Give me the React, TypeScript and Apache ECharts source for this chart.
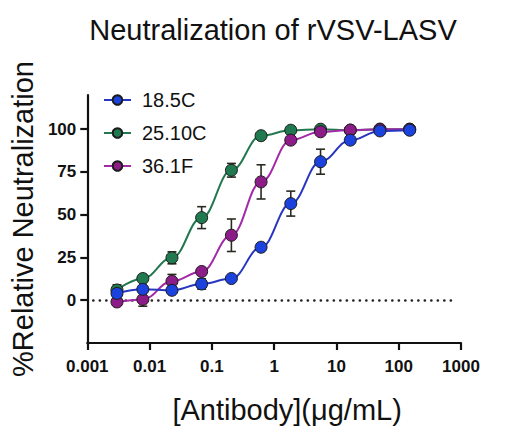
import React, { useEffect, useRef } from "react";
import * as echarts from "echarts";

// Antibody concentrations (µg/mL), ~3-fold dilution series
const concentrations = [0.003, 0.0078, 0.0229, 0.0686, 0.206, 0.617, 1.85, 5.56, 16.7, 50, 150];

// % relative neutralization (mean) and error (±) per antibody
const ab185C = [4, 6.4, 5.8, 9.5, 12.7, 31, 56.5, 81, 93.6, 99, 99.4];
const ab185CErr = [5, 1, 1, 3, 1, 1, 7.3, 7.3, 1, 0, 0];

const ab2510C = [6, 12.7, 24.8, 48.3, 76, 96.2, 99.4, 100, 99.4, 100, 100];
const ab2510CErr = [2, 2, 3.5, 6.4, 4, 1, 0, 0, 0, 0, 0];

const ab361F = [-1, 0.5, 11.1, 16.8, 38, 69.2, 93.6, 98.5, 99.5, 100, 100];
const ab361FErr = [2, 4, 4, 2, 9.5, 10, 1, 0, 0, 0, 0];

const seriesNames = ["18.5C", "25.10C", "36.1F"];

const xTickValues = [0.001, 0.01, 0.1, 1, 10, 100, 1000];
const xTickLabels = ["0.001", "0.01", "0.1", "1", "10", "100", "1000"];
const yTickValues = [0, 25, 50, 75, 100];

// dotted baseline at 0 %
const baselineRange = [0.00125, 800];

const FONT = "Liberation Sans, Arial, sans-serif";

function pairs(values: number[]) {
  return concentrations.map((c, i) => [c, values[i]]);
}

function errorTriples(values: number[], errs: number[]) {
  return concentrations
    .map((c, i) => [c, values[i] - errs[i], values[i] + errs[i]])
    .filter((_, i) => errs[i] > 0);
}

function errorBarSeries(name: string, values: number[], errs: number[]) {
  return {
    type: "custom",
    name: name + " err",
    z: 3,
    silent: true,
    data: errorTriples(values, errs),
    renderItem: (params: any, api: any) => {
      const x = api.value(0);
      const lo = api.coord([x, api.value(1)]);
      const hi = api.coord([x, api.value(2)]);
      const cap = 4.5;
      const style = { stroke: "#2a2a22", lineWidth: 1.6, fill: "none" };
      return {
        type: "group",
        children: [
          { type: "line", shape: { x1: lo[0], y1: lo[1], x2: hi[0], y2: hi[1] }, style },
          { type: "line", shape: { x1: lo[0] - cap, y1: lo[1], x2: lo[0] + cap, y2: lo[1] }, style },
          { type: "line", shape: { x1: hi[0] - cap, y1: hi[1], x2: hi[0] + cap, y2: hi[1] }, style },
        ],
      };
    },
  };
}

function lineSeries(name: string, values: number[], lineColor: string, dotColor: string, z: number) {
  return {
    type: "line",
    name,
    data: pairs(values),
    smooth: 0.4,
    smoothMonotone: "x",
    z,
    symbol: "circle",
    symbolSize: 12,
    lineStyle: { color: lineColor, width: 2 },
    itemStyle: { color: dotColor, borderColor: "#1b1b1b", borderWidth: 1 },
  };
}

export default function App() {
  const ref = useRef<HTMLDivElement>(null);

  useEffect(() => {
    if (!ref.current) return;
    const chart = echarts.init(ref.current, undefined, { renderer: "svg" });

    const option: any = {
      animation: false,
      backgroundColor: "#ffffff",
      title: {
        text: "Neutralization of rVSV-LASV",
        left: 268,
        textAlign: "center",
        top: 10,
        textStyle: { fontFamily: FONT, fontSize: 29, fontWeight: "normal", color: "#111" },
      },
      legend: {
        orient: "vertical",
        left: 98,
        top: 85,
        itemWidth: 27,
        itemHeight: 12,
        itemGap: 13,
        data: seriesNames,
        textStyle: { fontFamily: FONT, fontSize: 20, color: "#111", padding: [0, 0, 0, 6] },
      },
      grid: { left: 87, right: 63, top: 95, bottom: 90, containLabel: false },
      xAxis: {
        type: "log",
        logBase: 10,
        min: 0.001,
        max: 1000,
        name: "[Antibody](μg/mL)",
        nameLocation: "middle",
        nameGap: 52,
        nameTextStyle: { fontFamily: FONT, fontSize: 29, color: "#111", padding: [0, 0, 0, 26] },
        axisLine: { onZero: false, lineStyle: { color: "#111", width: 2.2 } },
        axisTick: { show: true, length: 7, lineStyle: { color: "#111", width: 2.2 }, customValues: xTickValues },
        axisLabel: {
          customValues: xTickValues,
          margin: 15,
          fontFamily: FONT,
          fontSize: 17,
          fontWeight: "bold",
          color: "#111",
          formatter: (v: number) => {
            let best = 0;
            xTickValues.forEach((t, i) => {
              if (Math.abs(Math.log10(t) - Math.log10(v)) < Math.abs(Math.log10(xTickValues[best]) - Math.log10(v))) best = i;
            });
            return xTickLabels[best];
          },
        },
        splitLine: { show: false },
        minorTick: { show: false },
      },
      yAxis: {
        type: "value",
        min: -25,
        max: 120,
        interval: 25,
        name: "%Relative Neutralization",
        nameLocation: "middle",
        nameGap: 49,
        nameTextStyle: { fontFamily: FONT, fontSize: 29, color: "#111" },
        axisLine: { show: true, onZero: false, lineStyle: { color: "#111", width: 2.2 } },
        axisTick: { show: true, length: 7, lineStyle: { color: "#111", width: 2.2 }, customValues: yTickValues },
        axisLabel: {
          customValues: yTickValues,
          margin: 11,
          fontFamily: FONT,
          fontSize: 17,
          fontWeight: "bold",
          color: "#111",
        },
        splitLine: { show: false },
      },
      series: [
        errorBarSeries(seriesNames[1], ab2510C, ab2510CErr),
        errorBarSeries(seriesNames[2], ab361F, ab361FErr),
        errorBarSeries(seriesNames[0], ab185C, ab185CErr),
        {
          ...lineSeries(seriesNames[1], ab2510C, "#23784f", "#217a4f", 4),
          markLine: {
            silent: true,
            symbol: "none",
            label: { show: false },
            lineStyle: { color: "#222", width: 2.6, type: [0.1, 6.4], cap: "round" },
            data: [[{ coord: [baselineRange[0], 0] }, { coord: [baselineRange[1], 0] }]],
          },
        },
        lineSeries(seriesNames[2], ab361F, "#a22aa6", "#8c1c88", 5),
        lineSeries(seriesNames[0], ab185C, "#2636c0", "#1b42dc", 6),
      ],
    };

    chart.setOption(option);
    return () => chart.dispose();
  }, []);

  return <div ref={ref} style={{ position: "fixed", left: 0, top: 0, width: 524, height: 433 }} />;
}
